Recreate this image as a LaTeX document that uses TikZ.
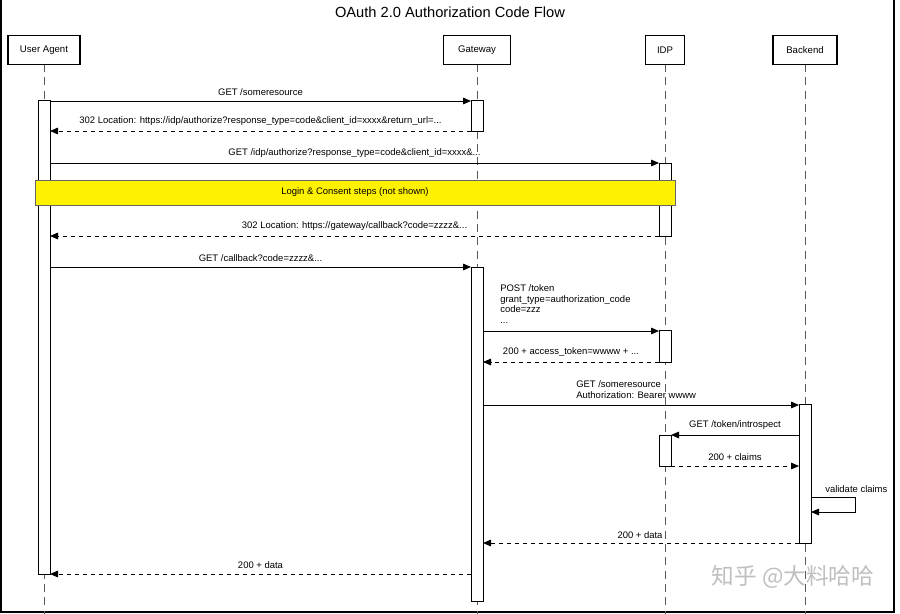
\documentclass[tikz,border=0pt]{standalone}
\usepackage{fontspec}
\setmainfont{Liberation Sans}
\newfontfamily\cjk{Noto Sans CJK SC}
\usetikzlibrary{arrows.meta}
\begin{document}
\begin{tikzpicture}[x=0.75pt,y=-0.75pt,
  actor/.style={draw,line width=0.8pt,fill=white,minimum height=22pt,inner sep=2pt,font=\fontsize{7.2}{8}\selectfont},
  life/.style={dash pattern=on 6pt off 4pt,line width=0.6pt,gray!70!black},
  act/.style={draw,fill=white,line width=0.6pt},
  msg/.style={-{Triangle[length=6pt,width=5pt]},line width=0.6pt},
  ret/.style={msg,dashed},
  lbl/.style={font=\fontsize{7.1}{8}\selectfont,inner sep=0pt}]
\useasboundingbox (0,0) rectangle (900,614);
\fill[white] (0,0) rectangle (900,614);
\draw[line width=1.5pt] (1,0) -- (1,612) -- (894,612) -- (894,0);
\node[font=\fontsize{11}{12}\selectfont] (title) at (450,12) {OAuth 2.0 Authorization Code Flow};
% lifelines
\draw[life] (44,64) -- (44,614);
\draw[life] (477,64) -- (477,614);
\draw[life] (665,64) -- (665,614);
\draw[life] (805,64) -- (805,614);
\node[actor,minimum width=54pt] (ua) at (44,50) {User Agent};
\node[actor,minimum width=50pt] (gw) at (477,50) {Gateway};
\node[actor,minimum width=29pt] (idp) at (665,50) {IDP};
\node[actor,minimum width=48pt] (be) at (805,50) {Backend};
% activations
\draw[act] (38,100) rectangle (50,574);
\draw[act] (471,100) rectangle (483,131);
\draw[act] (471,267) rectangle (483,601);
\draw[act] (659,163) rectangle (671,236);
\draw[act] (659,330) rectangle (671,362);
\draw[act] (659,435) rectangle (671,466);
\draw[act] (799,404) rectangle (811,543);
% messages
\coordinate (a1) at (50,101); \coordinate (b1) at (471,101);
\draw[msg] (a1) -- (b1) node[lbl,midway,above=4pt] {GET /someresource};
\coordinate (a2) at (471,131); \coordinate (b2) at (50,131);
\draw[ret] (a2) -- (b2) node[lbl,midway,above=4pt] {302 Location: https://idp/authorize?response\_type=code\&client\_id=xxxx\&return\_url=...};
\coordinate (a3) at (50,163); \coordinate (b3) at (659,163);
\draw[msg] (a3) -- (b3) node[lbl,midway,above=4pt] {GET /idp/authorize?response\_type=code\&client\_id=xxxx\&...};
\node[draw=black!60,fill=yellow,minimum width=480pt,minimum height=18.5pt,inner sep=0pt,font=\fontsize{7.1}{8}\selectfont] (login) at (355,192.5) {Login \& Consent steps (not shown)};
\coordinate (a4) at (659,236); \coordinate (b4) at (50,236);
\draw[ret] (a4) -- (b4) node[lbl,midway,above=4pt] {302 Location: https://gateway/callback?code=zzzz\&...};
\coordinate (a5) at (50,267); \coordinate (b5) at (471,267);
\draw[msg] (a5) -- (b5) node[lbl,midway,above=4pt] {GET /callback?code=zzzz\&...};
\coordinate (a6) at (483,331); \coordinate (b6) at (659,331);
\draw[msg] (a6) -- (b6);
\node[lbl,anchor=north west,align=left,font=\fontsize{7.1}{8.2}\selectfont] (t6) at (500,284) {POST /token\\grant\_type=authorization\_code\\code=zzz\\...};
\coordinate (a7) at (659,362); \coordinate (b7) at (483,362);
\draw[ret] (a7) -- (b7) node[lbl,midway,above=4pt] {200 + access\_token=wwww + ...};
\coordinate (a8) at (483,405); \coordinate (b8) at (799,405);
\draw[msg] (a8) -- (b8);
\node[lbl,anchor=north west,align=left,font=\fontsize{7.1}{8.2}\selectfont] (t8) at (576,380) {GET /someresource\\Authorization: Bearer wwww};
\coordinate (a9) at (799,435); \coordinate (b9) at (671,435);
\draw[msg] (a9) -- (b9) node[lbl,midway,above=4pt] {GET /token/introspect};
\coordinate (a10) at (671,466); \coordinate (b10) at (799,466);
\draw[ret] (a10) -- (b10) node[lbl,midway,above=4pt] {200 + claims};
\coordinate (a11) at (811,497); \coordinate (b11) at (811,512);
\draw[msg] (a11) -- (855,497) -- (855,512) -- (b11);
\node[lbl,anchor=south west] (t11) at (825,493) {validate claims};
\coordinate (a12) at (799,543); \coordinate (b12) at (483,543);
\draw[ret] (a12) -- (b12);
\node[lbl,anchor=south] (t12) at (640,539) {200 + data};
\coordinate (a13) at (471,574); \coordinate (b13) at (50,574);
\draw[ret] (a13) -- (b13) node[lbl,midway,above=4pt] {200 + data};
\node[font=\cjk\fontsize{17}{18}\selectfont,text=black!25] (wm) at (793,577) {知乎 @大料哈哈};
\end{tikzpicture}
\end{document}
